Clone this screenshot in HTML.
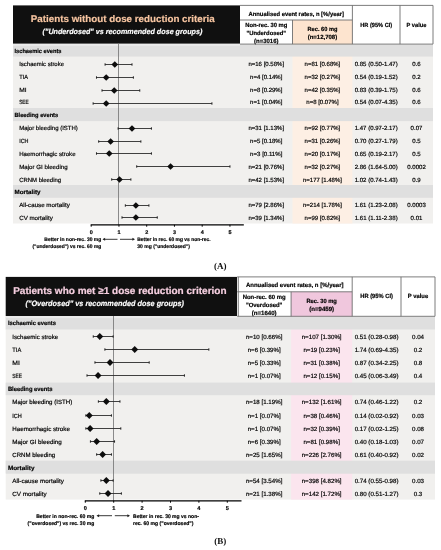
<!DOCTYPE html>
<html lang="en"><head><meta charset="utf-8"><title>Forest plots</title>
<style>
html,body{margin:0;padding:0;background:#fff}
svg{display:block}
text{font-family:"Liberation Sans",sans-serif;text-rendering:geometricPrecision}
.b{font-weight:bold}
text.sf{font-family:"Liberation Serif",serif;font-weight:bold}
</style></head><body>
<svg width="441" height="550" viewBox="0 0 441 550">
<rect width="441" height="550" fill="#fff"/>
<rect x="13.00" y="43.60" width="420.00" height="179.90" fill="#f1f0ee"/>
<rect x="292.50" y="43.60" width="59.90" height="179.90" fill="#fdefe4"/>
<rect x="13.00" y="44.50" width="420.00" height="12.10" fill="#dfdfdf"/>
<rect x="13.00" y="108.00" width="420.00" height="13.10" fill="#dfdfdf"/>
<rect x="13.00" y="185.00" width="420.00" height="12.80" fill="#dfdfdf"/>
<rect x="13.00" y="43.60" width="227.00" height="2.10" fill="#ebebeb"/>
<rect x="13.00" y="5.40" width="227.00" height="38.20" fill="#101010"/>
<text x="30.80" y="22.00" font-size="9.71" class="b" fill="#f7c5a1" stroke="#f7c5a1" stroke-width="0.18" textLength="183.99" lengthAdjust="spacingAndGlyphs">Patients without dose reduction criteria</text>
<text x="42.60" y="33.50" font-size="7.56" class="b" font-style="italic" fill="#ffffff" stroke="#ffffff" stroke-width="0.18" textLength="159.79" lengthAdjust="spacingAndGlyphs">("Underdosed" vs recommended dose groups)</text>
<rect x="240.00" y="5.40" width="193.00" height="38.70" fill="#ffffff"/>
<rect x="292.50" y="20.00" width="59.90" height="24.10" fill="#fde4cf"/>
<line x1="240.00" y1="5.40" x2="433.00" y2="5.40" stroke="#6e6e6e" stroke-width="0.9"/>
<line x1="240.00" y1="44.10" x2="433.00" y2="44.10" stroke="#6e6e6e" stroke-width="0.9"/>
<line x1="240.00" y1="20.00" x2="352.40" y2="20.00" stroke="#6e6e6e" stroke-width="0.9"/>
<line x1="292.50" y1="20.00" x2="292.50" y2="44.10" stroke="#6e6e6e" stroke-width="0.9"/>
<line x1="352.40" y1="5.40" x2="352.40" y2="44.10" stroke="#6e6e6e" stroke-width="0.9"/>
<line x1="400.00" y1="5.40" x2="400.00" y2="44.10" stroke="#6e6e6e" stroke-width="0.9"/>
<line x1="433.00" y1="5.40" x2="433.00" y2="44.10" stroke="#6e6e6e" stroke-width="0.9"/>
<text x="296.20" y="15.90" font-size="5.99" class="b" text-anchor="middle" fill="#000" stroke="#000" stroke-width="0.18" textLength="95.47" lengthAdjust="spacingAndGlyphs">Annualised event rates, n [%/year]</text>
<text x="266.25" y="26.80" font-size="5.99" class="b" text-anchor="middle" fill="#000" stroke="#000" stroke-width="0.18" textLength="42.07" lengthAdjust="spacingAndGlyphs">Non-rec. 30 mg</text>
<text x="266.25" y="34.90" font-size="5.99" class="b" text-anchor="middle" fill="#000" stroke="#000" stroke-width="0.18" textLength="39.65" lengthAdjust="spacingAndGlyphs">"Underdosed"</text>
<text x="266.25" y="42.70" font-size="5.99" class="b" text-anchor="middle" fill="#000" stroke="#000" stroke-width="0.18" textLength="24.51" lengthAdjust="spacingAndGlyphs">(n=3016)</text>
<text x="322.45" y="31.10" font-size="5.99" class="b" text-anchor="middle" fill="#000" stroke="#000" stroke-width="0.18" textLength="29.86" lengthAdjust="spacingAndGlyphs">Rec. 60 mg</text>
<text x="322.45" y="39.00" font-size="5.99" class="b" text-anchor="middle" fill="#000" stroke="#000" stroke-width="0.18" textLength="29.59" lengthAdjust="spacingAndGlyphs">(n=12,708)</text>
<text x="376.20" y="27.20" font-size="5.99" class="b" text-anchor="middle" fill="#000" stroke="#000" stroke-width="0.18" textLength="31.97" lengthAdjust="spacingAndGlyphs">HR (95% CI)</text>
<text x="416.50" y="27.20" font-size="5.99" class="b" text-anchor="middle" fill="#000" stroke="#000" stroke-width="0.18" textLength="19.93" lengthAdjust="spacingAndGlyphs">P value</text>
<line x1="118.50" y1="43.60" x2="118.50" y2="224.80" stroke="#777" stroke-width="0.85"/>
<text x="14.50" y="52.90" font-size="5.99" class="b" fill="#000" stroke="#000" stroke-width="0.18" textLength="46.95" lengthAdjust="spacingAndGlyphs">Ischaemic events</text>
<text x="19.20" y="65.70" font-size="5.99" fill="#000" stroke="#000" stroke-width="0.18" textLength="44.82" lengthAdjust="spacingAndGlyphs">Ischaemic stroke</text>
<text x="266.25" y="65.70" font-size="5.99" text-anchor="middle" fill="#000" stroke="#000" stroke-width="0.18" textLength="35.67" lengthAdjust="spacingAndGlyphs">n=16 [0.58%]</text>
<text x="322.45" y="65.70" font-size="5.99" text-anchor="middle" fill="#000" stroke="#000" stroke-width="0.18" textLength="35.67" lengthAdjust="spacingAndGlyphs">n=81 [0.68%]</text>
<text x="376.20" y="65.70" font-size="5.99" text-anchor="middle" fill="#000" stroke="#000" stroke-width="0.18" textLength="42.94" lengthAdjust="spacingAndGlyphs">0.85 (0.50-1.47)</text>
<text x="416.50" y="65.70" font-size="5.99" text-anchor="middle" fill="#000" stroke="#000" stroke-width="0.18" textLength="8.42" lengthAdjust="spacingAndGlyphs">0.6</text>
<line x1="105.08" y1="64.50" x2="131.99" y2="64.50" stroke="#2b2b2b" stroke-width="0.9"/>
<line x1="105.08" y1="63.30" x2="105.08" y2="65.70" stroke="#222" stroke-width="1"/>
<line x1="131.99" y1="63.30" x2="131.99" y2="65.70" stroke="#222" stroke-width="1"/>
<path d="M111.44 64.50L114.79 61.15L118.14 64.50L114.79 67.85Z" fill="#0d0d0d"/>
<text x="19.20" y="78.60" font-size="5.99" fill="#000" stroke="#000" stroke-width="0.18" textLength="8.76" lengthAdjust="spacingAndGlyphs">TIA</text>
<text x="266.25" y="78.60" font-size="5.99" text-anchor="middle" fill="#000" stroke="#000" stroke-width="0.18" textLength="32.30" lengthAdjust="spacingAndGlyphs">n=4 [0.14%]</text>
<text x="322.45" y="78.60" font-size="5.99" text-anchor="middle" fill="#000" stroke="#000" stroke-width="0.18" textLength="35.67" lengthAdjust="spacingAndGlyphs">n=32 [0.27%]</text>
<text x="376.20" y="78.60" font-size="5.99" text-anchor="middle" fill="#000" stroke="#000" stroke-width="0.18" textLength="42.94" lengthAdjust="spacingAndGlyphs">0.54 (0.19-1.52)</text>
<text x="416.50" y="78.60" font-size="5.99" text-anchor="middle" fill="#000" stroke="#000" stroke-width="0.18" textLength="8.42" lengthAdjust="spacingAndGlyphs">0.2</text>
<line x1="96.47" y1="77.50" x2="133.38" y2="77.50" stroke="#2b2b2b" stroke-width="0.9"/>
<line x1="96.47" y1="76.30" x2="96.47" y2="78.70" stroke="#222" stroke-width="1"/>
<line x1="133.38" y1="76.30" x2="133.38" y2="78.70" stroke="#222" stroke-width="1"/>
<path d="M102.84 77.50L106.19 74.15L109.53 77.50L106.19 80.85Z" fill="#0d0d0d"/>
<text x="19.20" y="91.50" font-size="5.99" fill="#000" stroke="#000" stroke-width="0.18" textLength="7.36" lengthAdjust="spacingAndGlyphs">MI</text>
<text x="266.25" y="91.50" font-size="5.99" text-anchor="middle" fill="#000" stroke="#000" stroke-width="0.18" textLength="32.30" lengthAdjust="spacingAndGlyphs">n=8 [0.29%]</text>
<text x="322.45" y="91.50" font-size="5.99" text-anchor="middle" fill="#000" stroke="#000" stroke-width="0.18" textLength="35.67" lengthAdjust="spacingAndGlyphs">n=42 [0.35%]</text>
<text x="376.20" y="91.50" font-size="5.99" text-anchor="middle" fill="#000" stroke="#000" stroke-width="0.18" textLength="42.94" lengthAdjust="spacingAndGlyphs">0.83 (0.39-1.75)</text>
<text x="416.50" y="91.50" font-size="5.99" text-anchor="middle" fill="#000" stroke="#000" stroke-width="0.18" textLength="8.42" lengthAdjust="spacingAndGlyphs">0.6</text>
<line x1="102.02" y1="90.50" x2="139.76" y2="90.50" stroke="#2b2b2b" stroke-width="0.9"/>
<line x1="102.02" y1="89.30" x2="102.02" y2="91.70" stroke="#222" stroke-width="1"/>
<line x1="139.76" y1="89.30" x2="139.76" y2="91.70" stroke="#222" stroke-width="1"/>
<path d="M110.88 90.50L114.23 87.15L117.58 90.50L114.23 93.85Z" fill="#0d0d0d"/>
<text x="19.20" y="104.40" font-size="5.99" fill="#000" stroke="#000" stroke-width="0.18" textLength="9.55" lengthAdjust="spacingAndGlyphs">SEE</text>
<text x="266.25" y="104.40" font-size="5.99" text-anchor="middle" fill="#000" stroke="#000" stroke-width="0.18" textLength="32.30" lengthAdjust="spacingAndGlyphs">n=1 [0.04%]</text>
<text x="322.45" y="104.40" font-size="5.99" text-anchor="middle" fill="#000" stroke="#000" stroke-width="0.18" textLength="32.30" lengthAdjust="spacingAndGlyphs">n=8 [0.07%]</text>
<text x="376.20" y="104.40" font-size="5.99" text-anchor="middle" fill="#000" stroke="#000" stroke-width="0.18" textLength="42.94" lengthAdjust="spacingAndGlyphs">0.54 (0.07-4.35)</text>
<text x="416.50" y="104.40" font-size="5.99" text-anchor="middle" fill="#000" stroke="#000" stroke-width="0.18" textLength="8.42" lengthAdjust="spacingAndGlyphs">0.6</text>
<line x1="93.14" y1="103.50" x2="211.91" y2="103.50" stroke="#2b2b2b" stroke-width="0.9"/>
<line x1="93.14" y1="102.30" x2="93.14" y2="104.70" stroke="#222" stroke-width="1"/>
<line x1="211.91" y1="102.30" x2="211.91" y2="104.70" stroke="#222" stroke-width="1"/>
<path d="M102.84 103.50L106.19 100.15L109.53 103.50L106.19 106.85Z" fill="#0d0d0d"/>
<text x="14.50" y="116.70" font-size="5.99" class="b" fill="#000" stroke="#000" stroke-width="0.18" textLength="43.70" lengthAdjust="spacingAndGlyphs">Bleeding events</text>
<text x="19.20" y="130.30" font-size="5.99" fill="#000" stroke="#000" stroke-width="0.18" textLength="58.68" lengthAdjust="spacingAndGlyphs">Major bleeding (ISTH)</text>
<text x="266.25" y="130.30" font-size="5.99" text-anchor="middle" fill="#000" stroke="#000" stroke-width="0.18" textLength="35.67" lengthAdjust="spacingAndGlyphs">n=31 [1.13%]</text>
<text x="322.45" y="130.30" font-size="5.99" text-anchor="middle" fill="#000" stroke="#000" stroke-width="0.18" textLength="35.67" lengthAdjust="spacingAndGlyphs">n=92 [0.77%]</text>
<text x="376.20" y="130.30" font-size="5.99" text-anchor="middle" fill="#000" stroke="#000" stroke-width="0.18" textLength="42.94" lengthAdjust="spacingAndGlyphs">1.47 (0.97-2.17)</text>
<text x="416.50" y="130.30" font-size="5.99" text-anchor="middle" fill="#000" stroke="#000" stroke-width="0.18" textLength="11.79" lengthAdjust="spacingAndGlyphs">0.07</text>
<line x1="118.12" y1="128.50" x2="151.42" y2="128.50" stroke="#2b2b2b" stroke-width="0.9"/>
<line x1="118.12" y1="127.30" x2="118.12" y2="129.70" stroke="#222" stroke-width="1"/>
<line x1="151.42" y1="127.30" x2="151.42" y2="129.70" stroke="#222" stroke-width="1"/>
<path d="M128.64 128.50L131.99 125.15L135.34 128.50L131.99 131.85Z" fill="#0d0d0d"/>
<text x="19.20" y="143.20" font-size="5.99" fill="#000" stroke="#000" stroke-width="0.18" textLength="9.36" lengthAdjust="spacingAndGlyphs">ICH</text>
<text x="266.25" y="143.20" font-size="5.99" text-anchor="middle" fill="#000" stroke="#000" stroke-width="0.18" textLength="32.30" lengthAdjust="spacingAndGlyphs">n=5 [0.18%]</text>
<text x="322.45" y="143.20" font-size="5.99" text-anchor="middle" fill="#000" stroke="#000" stroke-width="0.18" textLength="35.67" lengthAdjust="spacingAndGlyphs">n=31 [0.26%]</text>
<text x="376.20" y="143.20" font-size="5.99" text-anchor="middle" fill="#000" stroke="#000" stroke-width="0.18" textLength="42.94" lengthAdjust="spacingAndGlyphs">0.70 (0.27-1.79)</text>
<text x="416.50" y="143.20" font-size="5.99" text-anchor="middle" fill="#000" stroke="#000" stroke-width="0.18" textLength="8.42" lengthAdjust="spacingAndGlyphs">0.5</text>
<line x1="98.69" y1="141.50" x2="140.87" y2="141.50" stroke="#2b2b2b" stroke-width="0.9"/>
<line x1="98.69" y1="140.30" x2="98.69" y2="142.70" stroke="#222" stroke-width="1"/>
<line x1="140.87" y1="140.30" x2="140.87" y2="142.70" stroke="#222" stroke-width="1"/>
<path d="M107.28 141.50L110.62 138.15L113.97 141.50L110.62 144.85Z" fill="#0d0d0d"/>
<text x="19.20" y="156.05" font-size="5.99" fill="#000" stroke="#000" stroke-width="0.18" textLength="56.34" lengthAdjust="spacingAndGlyphs">Haemorrhagic stroke</text>
<text x="266.25" y="156.05" font-size="5.99" text-anchor="middle" fill="#000" stroke="#000" stroke-width="0.18" textLength="32.30" lengthAdjust="spacingAndGlyphs">n=3 [0.11%]</text>
<text x="322.45" y="156.05" font-size="5.99" text-anchor="middle" fill="#000" stroke="#000" stroke-width="0.18" textLength="35.67" lengthAdjust="spacingAndGlyphs">n=20 [0.17%]</text>
<text x="376.20" y="156.05" font-size="5.99" text-anchor="middle" fill="#000" stroke="#000" stroke-width="0.18" textLength="42.94" lengthAdjust="spacingAndGlyphs">0.65 (0.19-2.17)</text>
<text x="416.50" y="156.05" font-size="5.99" text-anchor="middle" fill="#000" stroke="#000" stroke-width="0.18" textLength="8.42" lengthAdjust="spacingAndGlyphs">0.5</text>
<line x1="96.47" y1="153.50" x2="151.42" y2="153.50" stroke="#2b2b2b" stroke-width="0.9"/>
<line x1="96.47" y1="152.30" x2="96.47" y2="154.70" stroke="#222" stroke-width="1"/>
<line x1="151.42" y1="152.30" x2="151.42" y2="154.70" stroke="#222" stroke-width="1"/>
<path d="M105.89 153.50L109.24 150.15L112.59 153.50L109.24 156.85Z" fill="#0d0d0d"/>
<text x="19.20" y="168.90" font-size="5.99" fill="#000" stroke="#000" stroke-width="0.18" textLength="48.45" lengthAdjust="spacingAndGlyphs">Major GI bleeding</text>
<text x="266.25" y="168.90" font-size="5.99" text-anchor="middle" fill="#000" stroke="#000" stroke-width="0.18" textLength="35.67" lengthAdjust="spacingAndGlyphs">n=21 [0.76%]</text>
<text x="322.45" y="168.90" font-size="5.99" text-anchor="middle" fill="#000" stroke="#000" stroke-width="0.18" textLength="35.67" lengthAdjust="spacingAndGlyphs">n=32 [0.27%]</text>
<text x="376.20" y="168.90" font-size="5.99" text-anchor="middle" fill="#000" stroke="#000" stroke-width="0.18" textLength="42.94" lengthAdjust="spacingAndGlyphs">2.86 (1.64-5.00)</text>
<text x="416.50" y="168.90" font-size="5.99" text-anchor="middle" fill="#000" stroke="#000" stroke-width="0.18" textLength="18.53" lengthAdjust="spacingAndGlyphs">0.0002</text>
<line x1="136.71" y1="166.50" x2="229.95" y2="166.50" stroke="#2b2b2b" stroke-width="0.9"/>
<line x1="136.71" y1="165.30" x2="136.71" y2="167.70" stroke="#222" stroke-width="1"/>
<line x1="229.95" y1="165.30" x2="229.95" y2="167.70" stroke="#222" stroke-width="1"/>
<path d="M167.22 166.50L170.56 163.15L173.91 166.50L170.56 169.85Z" fill="#0d0d0d"/>
<text x="19.20" y="181.70" font-size="5.99" fill="#000" stroke="#000" stroke-width="0.18" textLength="41.92" lengthAdjust="spacingAndGlyphs">CRNM bleeding</text>
<text x="266.25" y="181.70" font-size="5.99" text-anchor="middle" fill="#000" stroke="#000" stroke-width="0.18" textLength="35.67" lengthAdjust="spacingAndGlyphs">n=42 [1.53%]</text>
<text x="322.45" y="181.70" font-size="5.99" text-anchor="middle" fill="#000" stroke="#000" stroke-width="0.18" textLength="39.04" lengthAdjust="spacingAndGlyphs">n=177 [1.48%]</text>
<text x="376.20" y="181.70" font-size="5.99" text-anchor="middle" fill="#000" stroke="#000" stroke-width="0.18" textLength="42.94" lengthAdjust="spacingAndGlyphs">1.02 (0.74-1.43)</text>
<text x="416.50" y="181.70" font-size="5.99" text-anchor="middle" fill="#000" stroke="#000" stroke-width="0.18" textLength="8.42" lengthAdjust="spacingAndGlyphs">0.9</text>
<line x1="111.73" y1="179.50" x2="130.88" y2="179.50" stroke="#2b2b2b" stroke-width="0.9"/>
<line x1="111.73" y1="178.30" x2="111.73" y2="180.70" stroke="#222" stroke-width="1"/>
<line x1="130.88" y1="178.30" x2="130.88" y2="180.70" stroke="#222" stroke-width="1"/>
<path d="M116.16 179.50L119.50 176.15L122.85 179.50L119.50 182.85Z" fill="#0d0d0d"/>
<text x="14.50" y="194.00" font-size="5.99" class="b" fill="#000" stroke="#000" stroke-width="0.18" textLength="26.00" lengthAdjust="spacingAndGlyphs">Mortality</text>
<text x="19.20" y="207.10" font-size="5.99" fill="#000" stroke="#000" stroke-width="0.18" textLength="50.55" lengthAdjust="spacingAndGlyphs">All-cause mortality</text>
<text x="266.25" y="207.10" font-size="5.99" text-anchor="middle" fill="#000" stroke="#000" stroke-width="0.18" textLength="35.67" lengthAdjust="spacingAndGlyphs">n=79 [2.86%]</text>
<text x="322.45" y="207.10" font-size="5.99" text-anchor="middle" fill="#000" stroke="#000" stroke-width="0.18" textLength="39.04" lengthAdjust="spacingAndGlyphs">n=214 [1.78%]</text>
<text x="376.20" y="207.10" font-size="5.99" text-anchor="middle" fill="#000" stroke="#000" stroke-width="0.18" textLength="42.94" lengthAdjust="spacingAndGlyphs">1.61 (1.23-2.08)</text>
<text x="416.50" y="207.10" font-size="5.99" text-anchor="middle" fill="#000" stroke="#000" stroke-width="0.18" textLength="18.53" lengthAdjust="spacingAndGlyphs">0.0003</text>
<line x1="125.33" y1="205.50" x2="148.92" y2="205.50" stroke="#2b2b2b" stroke-width="0.9"/>
<line x1="125.33" y1="204.30" x2="125.33" y2="206.70" stroke="#222" stroke-width="1"/>
<line x1="148.92" y1="204.30" x2="148.92" y2="206.70" stroke="#222" stroke-width="1"/>
<path d="M132.53 205.50L135.88 202.15L139.23 205.50L135.88 208.85Z" fill="#0d0d0d"/>
<text x="19.20" y="219.80" font-size="5.99" fill="#000" stroke="#000" stroke-width="0.18" textLength="33.58" lengthAdjust="spacingAndGlyphs">CV mortality</text>
<text x="266.25" y="219.80" font-size="5.99" text-anchor="middle" fill="#000" stroke="#000" stroke-width="0.18" textLength="35.67" lengthAdjust="spacingAndGlyphs">n=39 [1.34%]</text>
<text x="322.45" y="219.80" font-size="5.99" text-anchor="middle" fill="#000" stroke="#000" stroke-width="0.18" textLength="35.67" lengthAdjust="spacingAndGlyphs">n=99 [0.82%]</text>
<text x="376.20" y="219.80" font-size="5.99" text-anchor="middle" fill="#000" stroke="#000" stroke-width="0.18" textLength="42.94" lengthAdjust="spacingAndGlyphs">1.61 (1.11-2.38)</text>
<text x="416.50" y="219.80" font-size="5.99" text-anchor="middle" fill="#000" stroke="#000" stroke-width="0.18" textLength="11.79" lengthAdjust="spacingAndGlyphs">0.01</text>
<line x1="122.00" y1="217.50" x2="157.25" y2="217.50" stroke="#2b2b2b" stroke-width="0.9"/>
<line x1="122.00" y1="216.30" x2="122.00" y2="218.70" stroke="#222" stroke-width="1"/>
<line x1="157.25" y1="216.30" x2="157.25" y2="218.70" stroke="#222" stroke-width="1"/>
<path d="M132.53 217.50L135.88 214.15L139.23 217.50L135.88 220.85Z" fill="#0d0d0d"/>
<line x1="90.70" y1="224.80" x2="243.82" y2="224.80" stroke="#000" stroke-width="1.3"/>
<line x1="91.20" y1="224.80" x2="91.20" y2="226.70" stroke="#000" stroke-width="1"/>
<text x="91.20" y="233.60" font-size="5.40" class="b" text-anchor="middle" fill="#000" stroke="#000" stroke-width="0.18" textLength="3.04" lengthAdjust="spacingAndGlyphs">0</text>
<line x1="118.95" y1="224.80" x2="118.95" y2="226.70" stroke="#000" stroke-width="1"/>
<text x="118.95" y="233.60" font-size="5.40" class="b" text-anchor="middle" fill="#000" stroke="#000" stroke-width="0.18" textLength="3.04" lengthAdjust="spacingAndGlyphs">1</text>
<line x1="146.70" y1="224.80" x2="146.70" y2="226.70" stroke="#000" stroke-width="1"/>
<text x="146.70" y="233.60" font-size="5.40" class="b" text-anchor="middle" fill="#000" stroke="#000" stroke-width="0.18" textLength="3.04" lengthAdjust="spacingAndGlyphs">2</text>
<line x1="174.45" y1="224.80" x2="174.45" y2="226.70" stroke="#000" stroke-width="1"/>
<text x="174.45" y="233.60" font-size="5.40" class="b" text-anchor="middle" fill="#000" stroke="#000" stroke-width="0.18" textLength="3.04" lengthAdjust="spacingAndGlyphs">3</text>
<line x1="202.20" y1="224.80" x2="202.20" y2="226.70" stroke="#000" stroke-width="1"/>
<text x="202.20" y="233.60" font-size="5.40" class="b" text-anchor="middle" fill="#000" stroke="#000" stroke-width="0.18" textLength="3.04" lengthAdjust="spacingAndGlyphs">4</text>
<line x1="229.95" y1="224.80" x2="229.95" y2="226.70" stroke="#000" stroke-width="1"/>
<text x="229.95" y="233.60" font-size="5.40" class="b" text-anchor="middle" fill="#000" stroke="#000" stroke-width="0.18" textLength="3.04" lengthAdjust="spacingAndGlyphs">5</text>
<text x="101.30" y="241.20" font-size="5.13" class="b" text-anchor="end" fill="#000" stroke="#000" stroke-width="0.18" textLength="56.99" lengthAdjust="spacingAndGlyphs">Better in non-rec. 30 mg</text>
<text x="101.30" y="248.00" font-size="5.13" class="b" text-anchor="end" fill="#000" stroke="#000" stroke-width="0.18" textLength="68.85" lengthAdjust="spacingAndGlyphs">("underdosed") vs rec. 60 mg</text>
<text x="137.30" y="241.20" font-size="5.13" class="b" fill="#000" stroke="#000" stroke-width="0.18" textLength="73.26" lengthAdjust="spacingAndGlyphs">Better in rec. 60 mg vs non-rec.</text>
<text x="137.30" y="248.00" font-size="5.13" class="b" fill="#000" stroke="#000" stroke-width="0.18" textLength="52.57" lengthAdjust="spacingAndGlyphs">30 mg ("underdosed")</text>
<line x1="103.50" y1="239.30" x2="117.50" y2="239.30" stroke="#222" stroke-width="0.9"/>
<path d="M102.50 239.30l2.6 -1.5v3z" fill="#222"/>
<line x1="120.00" y1="239.30" x2="134.00" y2="239.30" stroke="#222" stroke-width="0.9"/>
<path d="M135.00 239.30l-2.6 -1.5v3z" fill="#222"/>
<rect x="5.70" y="316.00" width="429.30" height="183.60" fill="#f1f0ee"/>
<rect x="291.10" y="316.00" width="61.10" height="183.60" fill="#fbe5ee"/>
<rect x="5.70" y="317.00" width="429.30" height="12.50" fill="#dfdfdf"/>
<rect x="5.70" y="382.60" width="429.30" height="12.60" fill="#dfdfdf"/>
<rect x="5.70" y="460.70" width="429.30" height="13.00" fill="#dfdfdf"/>
<rect x="5.70" y="316.00" width="231.50" height="2.10" fill="#ebebeb"/>
<rect x="5.70" y="276.90" width="231.50" height="39.10" fill="#101010"/>
<text x="13.20" y="293.90" font-size="9.92" class="b" fill="#f6cfe0" stroke="#f6cfe0" stroke-width="0.18" textLength="213.34" lengthAdjust="spacingAndGlyphs">Patients who met ≥1 dose reduction criterion</text>
<text x="25.50" y="306.20" font-size="7.73" class="b" font-style="italic" fill="#ffffff" stroke="#ffffff" stroke-width="0.18" textLength="158.41" lengthAdjust="spacingAndGlyphs">("Overdosed" vs recommended dose groups)</text>
<rect x="237.20" y="276.90" width="197.80" height="39.40" fill="#ffffff"/>
<rect x="291.10" y="291.80" width="61.10" height="24.50" fill="#f0c7dd"/>
<line x1="237.20" y1="276.90" x2="435.00" y2="276.90" stroke="#6e6e6e" stroke-width="0.9"/>
<line x1="237.20" y1="316.30" x2="435.00" y2="316.30" stroke="#6e6e6e" stroke-width="0.9"/>
<line x1="237.20" y1="291.80" x2="352.20" y2="291.80" stroke="#6e6e6e" stroke-width="0.9"/>
<line x1="238.30" y1="276.90" x2="238.30" y2="316.30" stroke="#6e6e6e" stroke-width="0.9"/>
<line x1="291.10" y1="291.80" x2="291.10" y2="316.30" stroke="#6e6e6e" stroke-width="0.9"/>
<line x1="352.20" y1="276.90" x2="352.20" y2="316.30" stroke="#6e6e6e" stroke-width="0.9"/>
<line x1="401.00" y1="276.90" x2="401.00" y2="316.30" stroke="#6e6e6e" stroke-width="0.9"/>
<line x1="435.00" y1="276.90" x2="435.00" y2="316.30" stroke="#6e6e6e" stroke-width="0.9"/>
<text x="294.70" y="287.30" font-size="6.12" class="b" text-anchor="middle" fill="#000" stroke="#000" stroke-width="0.18" textLength="97.57" lengthAdjust="spacingAndGlyphs">Annualised event rates, n [%/year]</text>
<text x="264.15" y="298.50" font-size="6.12" class="b" text-anchor="middle" fill="#000" stroke="#000" stroke-width="0.18" textLength="42.99" lengthAdjust="spacingAndGlyphs">Non-rec. 60 mg</text>
<text x="264.15" y="306.80" font-size="6.12" class="b" text-anchor="middle" fill="#000" stroke="#000" stroke-width="0.18" textLength="36.54" lengthAdjust="spacingAndGlyphs">"Overdosed"</text>
<text x="264.15" y="314.80" font-size="6.12" class="b" text-anchor="middle" fill="#000" stroke="#000" stroke-width="0.18" textLength="25.05" lengthAdjust="spacingAndGlyphs">(n=1640)</text>
<text x="321.65" y="302.50" font-size="6.12" class="b" text-anchor="middle" fill="#000" stroke="#000" stroke-width="0.18" textLength="30.52" lengthAdjust="spacingAndGlyphs">Rec. 30 mg</text>
<text x="321.65" y="310.70" font-size="6.12" class="b" text-anchor="middle" fill="#000" stroke="#000" stroke-width="0.18" textLength="25.05" lengthAdjust="spacingAndGlyphs">(n=9459)</text>
<text x="376.60" y="298.40" font-size="6.12" class="b" text-anchor="middle" fill="#000" stroke="#000" stroke-width="0.18" textLength="32.68" lengthAdjust="spacingAndGlyphs">HR (95% CI)</text>
<text x="418.00" y="298.40" font-size="6.12" class="b" text-anchor="middle" fill="#000" stroke="#000" stroke-width="0.18" textLength="20.36" lengthAdjust="spacingAndGlyphs">P value</text>
<line x1="113.50" y1="316.00" x2="113.50" y2="500.80" stroke="#777" stroke-width="0.85"/>
<text x="7.90" y="325.40" font-size="6.12" class="b" fill="#000" stroke="#000" stroke-width="0.18" textLength="47.98" lengthAdjust="spacingAndGlyphs">Ischaemic events</text>
<text x="12.30" y="338.70" font-size="6.12" fill="#000" stroke="#000" stroke-width="0.18" textLength="45.81" lengthAdjust="spacingAndGlyphs">Ischaemic stroke</text>
<text x="264.15" y="338.70" font-size="6.12" text-anchor="middle" fill="#000" stroke="#000" stroke-width="0.18" textLength="36.46" lengthAdjust="spacingAndGlyphs">n=10 [0.66%]</text>
<text x="321.65" y="338.70" font-size="6.12" text-anchor="middle" fill="#000" stroke="#000" stroke-width="0.18" textLength="39.90" lengthAdjust="spacingAndGlyphs">n=107 [1.30%]</text>
<text x="376.60" y="338.70" font-size="6.12" text-anchor="middle" fill="#000" stroke="#000" stroke-width="0.18" textLength="43.89" lengthAdjust="spacingAndGlyphs">0.51 (0.28-0.98)</text>
<text x="418.00" y="338.70" font-size="6.12" text-anchor="middle" fill="#000" stroke="#000" stroke-width="0.18" textLength="12.05" lengthAdjust="spacingAndGlyphs">0.04</text>
<line x1="93.25" y1="336.50" x2="113.13" y2="336.50" stroke="#2b2b2b" stroke-width="0.9"/>
<line x1="93.25" y1="335.30" x2="93.25" y2="337.70" stroke="#222" stroke-width="1"/>
<line x1="113.13" y1="335.30" x2="113.13" y2="337.70" stroke="#222" stroke-width="1"/>
<path d="M96.33 336.50L99.78 333.05L103.23 336.50L99.78 339.95Z" fill="#0d0d0d"/>
<text x="12.30" y="351.85" font-size="6.12" fill="#000" stroke="#000" stroke-width="0.18" textLength="8.96" lengthAdjust="spacingAndGlyphs">TIA</text>
<text x="264.15" y="351.85" font-size="6.12" text-anchor="middle" fill="#000" stroke="#000" stroke-width="0.18" textLength="33.01" lengthAdjust="spacingAndGlyphs">n=6 [0.39%]</text>
<text x="321.65" y="351.85" font-size="6.12" text-anchor="middle" fill="#000" stroke="#000" stroke-width="0.18" textLength="36.46" lengthAdjust="spacingAndGlyphs">n=19 [0.23%]</text>
<text x="376.60" y="351.85" font-size="6.12" text-anchor="middle" fill="#000" stroke="#000" stroke-width="0.18" textLength="43.89" lengthAdjust="spacingAndGlyphs">1.74 (0.69-4.35)</text>
<text x="418.00" y="351.85" font-size="6.12" text-anchor="middle" fill="#000" stroke="#000" stroke-width="0.18" textLength="8.61" lengthAdjust="spacingAndGlyphs">0.2</text>
<line x1="104.90" y1="349.50" x2="208.84" y2="349.50" stroke="#2b2b2b" stroke-width="0.9"/>
<line x1="104.90" y1="348.30" x2="104.90" y2="350.70" stroke="#222" stroke-width="1"/>
<line x1="208.84" y1="348.30" x2="208.84" y2="350.70" stroke="#222" stroke-width="1"/>
<path d="M131.27 349.50L134.72 346.05L138.17 349.50L134.72 352.95Z" fill="#0d0d0d"/>
<text x="12.30" y="365.00" font-size="6.12" fill="#000" stroke="#000" stroke-width="0.18" textLength="7.52" lengthAdjust="spacingAndGlyphs">MI</text>
<text x="264.15" y="365.00" font-size="6.12" text-anchor="middle" fill="#000" stroke="#000" stroke-width="0.18" textLength="33.01" lengthAdjust="spacingAndGlyphs">n=5 [0.33%]</text>
<text x="321.65" y="365.00" font-size="6.12" text-anchor="middle" fill="#000" stroke="#000" stroke-width="0.18" textLength="36.46" lengthAdjust="spacingAndGlyphs">n=31 [0.38%]</text>
<text x="376.60" y="365.00" font-size="6.12" text-anchor="middle" fill="#000" stroke="#000" stroke-width="0.18" textLength="43.89" lengthAdjust="spacingAndGlyphs">0.87 (0.34-2.25)</text>
<text x="418.00" y="365.00" font-size="6.12" text-anchor="middle" fill="#000" stroke="#000" stroke-width="0.18" textLength="8.61" lengthAdjust="spacingAndGlyphs">0.8</text>
<line x1="94.96" y1="362.50" x2="149.20" y2="362.50" stroke="#2b2b2b" stroke-width="0.9"/>
<line x1="94.96" y1="361.30" x2="94.96" y2="363.70" stroke="#222" stroke-width="1"/>
<line x1="149.20" y1="361.30" x2="149.20" y2="363.70" stroke="#222" stroke-width="1"/>
<path d="M106.56 362.50L110.01 359.05L113.46 362.50L110.01 365.95Z" fill="#0d0d0d"/>
<text x="12.30" y="378.15" font-size="6.12" fill="#000" stroke="#000" stroke-width="0.18" textLength="9.76" lengthAdjust="spacingAndGlyphs">SEE</text>
<text x="264.15" y="378.15" font-size="6.12" text-anchor="middle" fill="#000" stroke="#000" stroke-width="0.18" textLength="33.01" lengthAdjust="spacingAndGlyphs">n=1 [0.07%]</text>
<text x="321.65" y="378.15" font-size="6.12" text-anchor="middle" fill="#000" stroke="#000" stroke-width="0.18" textLength="36.46" lengthAdjust="spacingAndGlyphs">n=12 [0.15%]</text>
<text x="376.60" y="378.15" font-size="6.12" text-anchor="middle" fill="#000" stroke="#000" stroke-width="0.18" textLength="43.89" lengthAdjust="spacingAndGlyphs">0.45 (0.06-3.49)</text>
<text x="418.00" y="378.15" font-size="6.12" text-anchor="middle" fill="#000" stroke="#000" stroke-width="0.18" textLength="8.61" lengthAdjust="spacingAndGlyphs">0.4</text>
<line x1="87.00" y1="375.50" x2="184.42" y2="375.50" stroke="#2b2b2b" stroke-width="0.9"/>
<line x1="87.00" y1="374.30" x2="87.00" y2="376.70" stroke="#222" stroke-width="1"/>
<line x1="184.42" y1="374.30" x2="184.42" y2="376.70" stroke="#222" stroke-width="1"/>
<path d="M94.63 375.50L98.08 372.05L101.53 375.50L98.08 378.95Z" fill="#0d0d0d"/>
<text x="7.90" y="390.70" font-size="6.12" class="b" fill="#000" stroke="#000" stroke-width="0.18" textLength="44.66" lengthAdjust="spacingAndGlyphs">Bleeding events</text>
<text x="12.30" y="404.45" font-size="6.12" fill="#000" stroke="#000" stroke-width="0.18" textLength="59.97" lengthAdjust="spacingAndGlyphs">Major bleeding (ISTH)</text>
<text x="264.15" y="404.45" font-size="6.12" text-anchor="middle" fill="#000" stroke="#000" stroke-width="0.18" textLength="36.46" lengthAdjust="spacingAndGlyphs">n=18 [1.19%]</text>
<text x="321.65" y="404.45" font-size="6.12" text-anchor="middle" fill="#000" stroke="#000" stroke-width="0.18" textLength="39.90" lengthAdjust="spacingAndGlyphs">n=132 [1.61%]</text>
<text x="376.60" y="404.45" font-size="6.12" text-anchor="middle" fill="#000" stroke="#000" stroke-width="0.18" textLength="43.89" lengthAdjust="spacingAndGlyphs">0.74 (0.46-1.22)</text>
<text x="418.00" y="404.45" font-size="6.12" text-anchor="middle" fill="#000" stroke="#000" stroke-width="0.18" textLength="8.61" lengthAdjust="spacingAndGlyphs">0.2</text>
<line x1="98.36" y1="401.50" x2="119.95" y2="401.50" stroke="#2b2b2b" stroke-width="0.9"/>
<line x1="98.36" y1="400.30" x2="98.36" y2="402.70" stroke="#222" stroke-width="1"/>
<line x1="119.95" y1="400.30" x2="119.95" y2="402.70" stroke="#222" stroke-width="1"/>
<path d="M102.87 401.50L106.32 398.05L109.77 401.50L106.32 404.95Z" fill="#0d0d0d"/>
<text x="12.30" y="417.60" font-size="6.12" fill="#000" stroke="#000" stroke-width="0.18" textLength="9.57" lengthAdjust="spacingAndGlyphs">ICH</text>
<text x="264.15" y="417.60" font-size="6.12" text-anchor="middle" fill="#000" stroke="#000" stroke-width="0.18" textLength="33.01" lengthAdjust="spacingAndGlyphs">n=1 [0.07%]</text>
<text x="321.65" y="417.60" font-size="6.12" text-anchor="middle" fill="#000" stroke="#000" stroke-width="0.18" textLength="36.46" lengthAdjust="spacingAndGlyphs">n=38 [0.46%]</text>
<text x="376.60" y="417.60" font-size="6.12" text-anchor="middle" fill="#000" stroke="#000" stroke-width="0.18" textLength="43.89" lengthAdjust="spacingAndGlyphs">0.14 (0.02-0.92)</text>
<text x="418.00" y="417.60" font-size="6.12" text-anchor="middle" fill="#000" stroke="#000" stroke-width="0.18" textLength="12.05" lengthAdjust="spacingAndGlyphs">0.03</text>
<line x1="85.87" y1="415.50" x2="111.43" y2="415.50" stroke="#2b2b2b" stroke-width="0.9"/>
<line x1="85.87" y1="414.30" x2="85.87" y2="416.70" stroke="#222" stroke-width="1"/>
<line x1="111.43" y1="414.30" x2="111.43" y2="416.70" stroke="#222" stroke-width="1"/>
<path d="M85.83 415.50L89.28 412.05L92.73 415.50L89.28 418.95Z" fill="#0d0d0d"/>
<text x="12.30" y="430.75" font-size="6.12" fill="#000" stroke="#000" stroke-width="0.18" textLength="57.57" lengthAdjust="spacingAndGlyphs">Haemorrhagic stroke</text>
<text x="264.15" y="430.75" font-size="6.12" text-anchor="middle" fill="#000" stroke="#000" stroke-width="0.18" textLength="33.01" lengthAdjust="spacingAndGlyphs">n=1 [0.07%]</text>
<text x="321.65" y="430.75" font-size="6.12" text-anchor="middle" fill="#000" stroke="#000" stroke-width="0.18" textLength="36.46" lengthAdjust="spacingAndGlyphs">n=32 [0.39%]</text>
<text x="376.60" y="430.75" font-size="6.12" text-anchor="middle" fill="#000" stroke="#000" stroke-width="0.18" textLength="43.89" lengthAdjust="spacingAndGlyphs">0.17 (0.02-1.25)</text>
<text x="418.00" y="430.75" font-size="6.12" text-anchor="middle" fill="#000" stroke="#000" stroke-width="0.18" textLength="12.05" lengthAdjust="spacingAndGlyphs">0.08</text>
<line x1="85.87" y1="428.50" x2="120.80" y2="428.50" stroke="#2b2b2b" stroke-width="0.9"/>
<line x1="85.87" y1="427.30" x2="85.87" y2="429.70" stroke="#222" stroke-width="1"/>
<line x1="120.80" y1="427.30" x2="120.80" y2="429.70" stroke="#222" stroke-width="1"/>
<path d="M86.68 428.50L90.13 425.05L93.58 428.50L90.13 431.95Z" fill="#0d0d0d"/>
<text x="12.30" y="443.90" font-size="6.12" fill="#000" stroke="#000" stroke-width="0.18" textLength="49.51" lengthAdjust="spacingAndGlyphs">Major GI bleeding</text>
<text x="264.15" y="443.90" font-size="6.12" text-anchor="middle" fill="#000" stroke="#000" stroke-width="0.18" textLength="33.01" lengthAdjust="spacingAndGlyphs">n=6 [0.39%]</text>
<text x="321.65" y="443.90" font-size="6.12" text-anchor="middle" fill="#000" stroke="#000" stroke-width="0.18" textLength="36.46" lengthAdjust="spacingAndGlyphs">n=81 [0.98%]</text>
<text x="376.60" y="443.90" font-size="6.12" text-anchor="middle" fill="#000" stroke="#000" stroke-width="0.18" textLength="43.89" lengthAdjust="spacingAndGlyphs">0.40 (0.18-1.03)</text>
<text x="418.00" y="443.90" font-size="6.12" text-anchor="middle" fill="#000" stroke="#000" stroke-width="0.18" textLength="12.05" lengthAdjust="spacingAndGlyphs">0.07</text>
<line x1="90.41" y1="441.50" x2="114.55" y2="441.50" stroke="#2b2b2b" stroke-width="0.9"/>
<line x1="90.41" y1="440.30" x2="90.41" y2="442.70" stroke="#222" stroke-width="1"/>
<line x1="114.55" y1="440.30" x2="114.55" y2="442.70" stroke="#222" stroke-width="1"/>
<path d="M93.21 441.50L96.66 438.05L100.11 441.50L96.66 444.95Z" fill="#0d0d0d"/>
<text x="12.30" y="457.05" font-size="6.12" fill="#000" stroke="#000" stroke-width="0.18" textLength="42.84" lengthAdjust="spacingAndGlyphs">CRNM bleeding</text>
<text x="264.15" y="457.05" font-size="6.12" text-anchor="middle" fill="#000" stroke="#000" stroke-width="0.18" textLength="36.46" lengthAdjust="spacingAndGlyphs">n=25 [1.65%]</text>
<text x="321.65" y="457.05" font-size="6.12" text-anchor="middle" fill="#000" stroke="#000" stroke-width="0.18" textLength="39.90" lengthAdjust="spacingAndGlyphs">n=226 [2.76%]</text>
<text x="376.60" y="457.05" font-size="6.12" text-anchor="middle" fill="#000" stroke="#000" stroke-width="0.18" textLength="43.89" lengthAdjust="spacingAndGlyphs">0.61 (0.40-0.92)</text>
<text x="418.00" y="457.05" font-size="6.12" text-anchor="middle" fill="#000" stroke="#000" stroke-width="0.18" textLength="12.05" lengthAdjust="spacingAndGlyphs">0.02</text>
<line x1="96.66" y1="454.50" x2="111.43" y2="454.50" stroke="#2b2b2b" stroke-width="0.9"/>
<line x1="96.66" y1="453.30" x2="96.66" y2="455.70" stroke="#222" stroke-width="1"/>
<line x1="111.43" y1="453.30" x2="111.43" y2="455.70" stroke="#222" stroke-width="1"/>
<path d="M99.17 454.50L102.62 451.05L106.07 454.50L102.62 457.95Z" fill="#0d0d0d"/>
<text x="7.90" y="469.60" font-size="6.12" class="b" fill="#000" stroke="#000" stroke-width="0.18" textLength="26.57" lengthAdjust="spacingAndGlyphs">Mortality</text>
<text x="12.30" y="482.70" font-size="6.12" fill="#000" stroke="#000" stroke-width="0.18" textLength="51.66" lengthAdjust="spacingAndGlyphs">All-cause mortality</text>
<text x="264.15" y="482.70" font-size="6.12" text-anchor="middle" fill="#000" stroke="#000" stroke-width="0.18" textLength="36.46" lengthAdjust="spacingAndGlyphs">n=54 [3.54%]</text>
<text x="321.65" y="482.70" font-size="6.12" text-anchor="middle" fill="#000" stroke="#000" stroke-width="0.18" textLength="39.90" lengthAdjust="spacingAndGlyphs">n=398 [4.82%]</text>
<text x="376.60" y="482.70" font-size="6.12" text-anchor="middle" fill="#000" stroke="#000" stroke-width="0.18" textLength="43.89" lengthAdjust="spacingAndGlyphs">0.74 (0.55-0.98)</text>
<text x="418.00" y="482.70" font-size="6.12" text-anchor="middle" fill="#000" stroke="#000" stroke-width="0.18" textLength="12.05" lengthAdjust="spacingAndGlyphs">0.03</text>
<line x1="100.92" y1="480.50" x2="113.13" y2="480.50" stroke="#2b2b2b" stroke-width="0.9"/>
<line x1="100.92" y1="479.30" x2="100.92" y2="481.70" stroke="#222" stroke-width="1"/>
<line x1="113.13" y1="479.30" x2="113.13" y2="481.70" stroke="#222" stroke-width="1"/>
<path d="M102.87 480.50L106.32 477.05L109.77 480.50L106.32 483.95Z" fill="#0d0d0d"/>
<text x="12.30" y="495.60" font-size="6.12" fill="#000" stroke="#000" stroke-width="0.18" textLength="34.32" lengthAdjust="spacingAndGlyphs">CV mortality</text>
<text x="264.15" y="495.60" font-size="6.12" text-anchor="middle" fill="#000" stroke="#000" stroke-width="0.18" textLength="36.46" lengthAdjust="spacingAndGlyphs">n=21 [1.38%]</text>
<text x="321.65" y="495.60" font-size="6.12" text-anchor="middle" fill="#000" stroke="#000" stroke-width="0.18" textLength="39.90" lengthAdjust="spacingAndGlyphs">n=142 [1.72%]</text>
<text x="376.60" y="495.60" font-size="6.12" text-anchor="middle" fill="#000" stroke="#000" stroke-width="0.18" textLength="43.89" lengthAdjust="spacingAndGlyphs">0.80 (0.51-1.27)</text>
<text x="418.00" y="495.60" font-size="6.12" text-anchor="middle" fill="#000" stroke="#000" stroke-width="0.18" textLength="8.61" lengthAdjust="spacingAndGlyphs">0.3</text>
<line x1="99.78" y1="493.50" x2="121.37" y2="493.50" stroke="#2b2b2b" stroke-width="0.9"/>
<line x1="99.78" y1="492.30" x2="99.78" y2="494.70" stroke="#222" stroke-width="1"/>
<line x1="121.37" y1="492.30" x2="121.37" y2="494.70" stroke="#222" stroke-width="1"/>
<path d="M104.57 493.50L108.02 490.05L111.47 493.50L108.02 496.95Z" fill="#0d0d0d"/>
<line x1="84.80" y1="500.80" x2="241.50" y2="500.80" stroke="#000" stroke-width="1.3"/>
<line x1="85.30" y1="500.80" x2="85.30" y2="502.70" stroke="#000" stroke-width="1"/>
<text x="85.30" y="510.20" font-size="5.52" class="b" text-anchor="middle" fill="#000" stroke="#000" stroke-width="0.18" textLength="3.11" lengthAdjust="spacingAndGlyphs">0</text>
<line x1="113.70" y1="500.80" x2="113.70" y2="502.70" stroke="#000" stroke-width="1"/>
<text x="113.70" y="510.20" font-size="5.52" class="b" text-anchor="middle" fill="#000" stroke="#000" stroke-width="0.18" textLength="3.11" lengthAdjust="spacingAndGlyphs">1</text>
<line x1="142.10" y1="500.80" x2="142.10" y2="502.70" stroke="#000" stroke-width="1"/>
<text x="142.10" y="510.20" font-size="5.52" class="b" text-anchor="middle" fill="#000" stroke="#000" stroke-width="0.18" textLength="3.11" lengthAdjust="spacingAndGlyphs">2</text>
<line x1="170.50" y1="500.80" x2="170.50" y2="502.70" stroke="#000" stroke-width="1"/>
<text x="170.50" y="510.20" font-size="5.52" class="b" text-anchor="middle" fill="#000" stroke="#000" stroke-width="0.18" textLength="3.11" lengthAdjust="spacingAndGlyphs">3</text>
<line x1="198.90" y1="500.80" x2="198.90" y2="502.70" stroke="#000" stroke-width="1"/>
<text x="198.90" y="510.20" font-size="5.52" class="b" text-anchor="middle" fill="#000" stroke="#000" stroke-width="0.18" textLength="3.11" lengthAdjust="spacingAndGlyphs">4</text>
<line x1="227.30" y1="500.80" x2="227.30" y2="502.70" stroke="#000" stroke-width="1"/>
<text x="227.30" y="510.20" font-size="5.52" class="b" text-anchor="middle" fill="#000" stroke="#000" stroke-width="0.18" textLength="3.11" lengthAdjust="spacingAndGlyphs">5</text>
<text x="94.40" y="517.60" font-size="5.24" class="b" text-anchor="end" fill="#000" stroke="#000" stroke-width="0.18" textLength="58.24" lengthAdjust="spacingAndGlyphs">Better in non-rec. 60 mg</text>
<text x="94.40" y="525.00" font-size="5.24" class="b" text-anchor="end" fill="#000" stroke="#000" stroke-width="0.18" textLength="66.80" lengthAdjust="spacingAndGlyphs">("overdosed") vs rec. 30 mg</text>
<text x="133.00" y="517.60" font-size="5.24" class="b" fill="#000" stroke="#000" stroke-width="0.18" textLength="65.94" lengthAdjust="spacingAndGlyphs">Better in rec. 30 mg vs non-</text>
<text x="133.00" y="525.00" font-size="5.24" class="b" fill="#000" stroke="#000" stroke-width="0.18" textLength="60.42" lengthAdjust="spacingAndGlyphs">rec. 60 mg ("overdosed")</text>
<line x1="97.50" y1="515.70" x2="112.00" y2="515.70" stroke="#222" stroke-width="0.9"/>
<path d="M96.50 515.70l2.6 -1.5v3z" fill="#222"/>
<line x1="114.80" y1="515.70" x2="129.00" y2="515.70" stroke="#222" stroke-width="0.9"/>
<path d="M130.00 515.70l-2.6 -1.5v3z" fill="#222"/>
<text x="220.3" y="269" font-size="9" text-anchor="middle" class="sf" fill="#111">(A)</text>
<text x="220.3" y="544" font-size="9" text-anchor="middle" class="sf" fill="#111">(B)</text>
</svg>
</body></html>
